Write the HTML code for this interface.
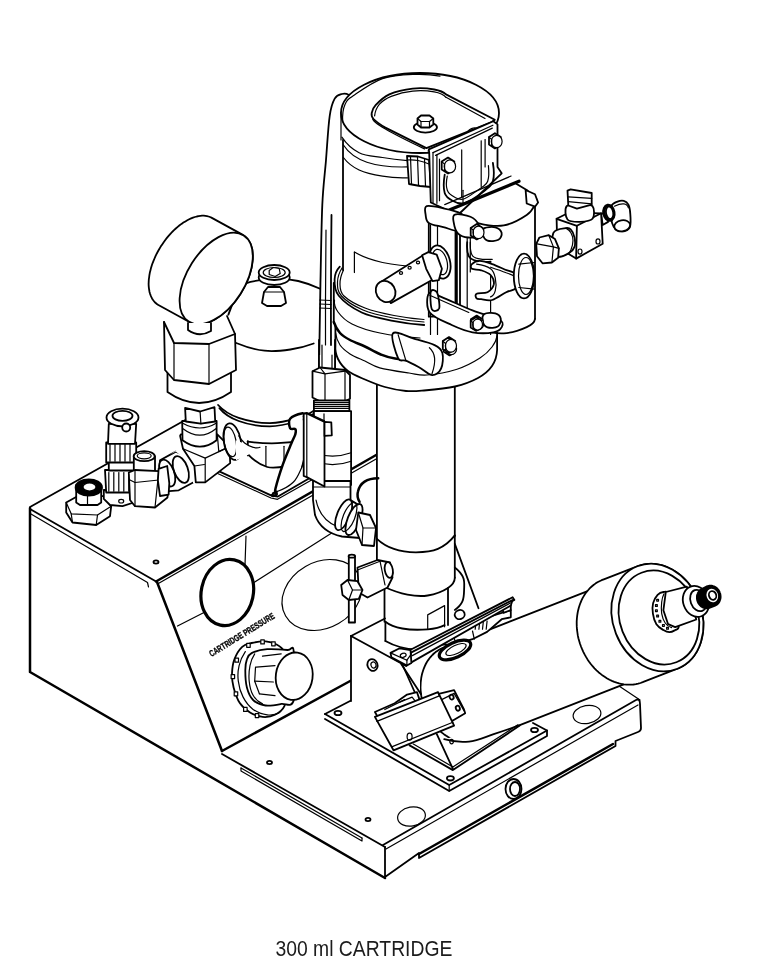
<!DOCTYPE html>
<html><head><meta charset="utf-8"><style>
html,body{margin:0;padding:0;background:#fff;width:768px;height:968px;overflow:hidden}
svg{display:block;position:absolute;left:0;top:0;filter:grayscale(100%)}
.s path,.s line,.s ellipse,.s circle,.s polyline,.s polygon,.s rect{stroke:#000;stroke-linejoin:round;stroke-linecap:round;fill:none}
.s .t{stroke-width:1.2}
.s .m{stroke-width:1.8}
.s .k{stroke-width:2.5}
.s .kk{stroke-width:3.2}
.s .w{fill:#fff}
.s .b{fill:#000}
.s .n{stroke:none}
.cap{position:absolute;left:0;top:936px;width:768px;text-align:center;font:15px "Liberation Sans",sans-serif;color:#000}
</style></head><body>
<svg class="s" width="768" height="968" viewBox="0 0 768 968">
<path class="n w" d="M30,508 L196,414 L330,480 L640,700 L641,730 L385,878 L30,672 Z"/>
<path class="k" d="M30,508 L30,672 L385,878"/>
<path class="m" d="M30,507 L196,414"/>
<path class="m" d="M30,509 L157,582"/>
<path class="t" d="M31,514 L147.5,582.5 L148.5,587"/>
<path class="k" d="M157,582 L222,751"/>
<path class="k" d="M156,581.5 L377,454.5"/>
<path class="t" d="M157.5,584 L377,458.5"/>
<path class="k" d="M222,751 L352,680"/>
<path class="m" d="M222,754 L385,847"/>
<path class="t" d="M241,768 L241,771 L362,841 L362,838"/>
<path class="t" d="M241,768 L362,838"/>
<path class="m" d="M383,845 L636,700 Q640,698 640,704 L641,728 Q641,731 638,732 L615.5,741 L615.5,746 L419,858 L419,853 L385,877 L385,847"/>
<path class="t" d="M386,849 L638,705"/>
<path class="k" d="M419,854 L613,744"/>
<path class="t" d="M519,724 L619,686 L640,700"/>
<path class="t" d="M246,536 L245,565"/>
<path class="t" d="M177.5,626 L204,612.5"/>
<path class="t" d="M254,582.5 L332.5,532.5 L336,525"/>
<ellipse class="m" cx="156" cy="562" rx="2.5" ry="1.6"/>
<ellipse class="m" cx="269.5" cy="762.5" rx="2.5" ry="1.6"/>
<ellipse class="m" cx="368" cy="819.5" rx="2.5" ry="1.6"/>
<ellipse class="t" cx="411.5" cy="816.5" rx="14" ry="9.5" transform="rotate(-10 411.5 816.5)"/>
<ellipse class="t" cx="587" cy="714.5" rx="14" ry="9" transform="rotate(-10 587 714.5)"/>
<ellipse class="m" cx="513.5" cy="789" rx="8" ry="10"/>
<ellipse class="m" cx="515" cy="789" rx="5" ry="7"/>
<ellipse class="kk" cx="227.3" cy="592.5" rx="26" ry="33.3" transform="rotate(12 227.3 592.5)"/>
<ellipse class="t" cx="322" cy="595" rx="42" ry="33" transform="rotate(-30 322 595)"/>
<path class="m w" d="M242.2,646.9 C245.1,644.1 247.7,643.9 251.6,643 C255.5,642.1 261.5,641.1 265.6,641.4 C269.8,641.7 273.4,642.8 276.6,644.5 C279.7,646.2 282.6,648 284.4,651.6 C286.2,655.1 287,659.6 287.5,665.6 C288,671.6 288,680.7 287.5,687.5 C287,694.3 286.5,701.7 284.4,706.2 C282.3,710.8 278.6,713.1 275,714.8 C271.4,716.6 266.7,717.3 262.5,716.9 C258.3,716.5 253.8,714.8 250,712.5 C246.2,710.2 242.6,707.3 239.8,703.1 C237.1,699 234.9,692.4 233.6,687.5 C232.3,682.6 231.9,678.1 232,673.4 C232.2,668.8 232.7,663.8 234.4,659.4 C236.1,654.9 239.3,649.6 242.2,646.9Z"/>
<path class="t w" d="M235.0,658.2 h3.5 v4 h-3.5z"/>
<path class="t w" d="M231.1,674.6 h3.5 v4 h-3.5z"/>
<path class="t w" d="M234.2,691.8 h3.5 v4 h-3.5z"/>
<path class="t w" d="M243.6,707.4 h3.5 v4 h-3.5z"/>
<path class="t w" d="M255.3,713.6 h3.5 v4 h-3.5z"/>
<path class="t w" d="M246.7,643.3 h3.5 v4 h-3.5z"/>
<path class="t w" d="M260.8,639.9 h3.5 v4 h-3.5z"/>
<path class="t w" d="M271.7,641.8 h3.5 v4 h-3.5z"/>
<path class="t" d="M245.3,651.6 C242.3,656 240.2,660.7 239.1,665.6 C237.9,670.6 237.6,676 238.3,681.2 C238.9,686.5 240.5,692.2 243,696.9 C245.4,701.6 249.1,706.4 253.1,709.4 C257.2,712.4 262.8,714.3 267.2,714.8 C271.6,715.4 275.8,714.6 279.7,712.5"/>
<path class="m w" d="M251.6,653.1 C254.9,651.4 261.2,649.7 267.2,649.2 C273.2,648.7 283.1,649.6 287.5,650 C291.9,650.4 292.7,643.2 293.8,651.6 C294.8,659.9 295.8,691.3 293.8,700 C291.7,708.7 285.9,703 281.2,703.9 C276.6,704.8 270.3,706.1 265.6,705.5 C260.9,704.8 256.2,703 253.1,700 C250,697 248.2,692.4 246.9,687.5 C245.6,682.6 245.3,675 245.3,670.3 C245.3,665.6 245.8,662.2 246.9,659.4 C247.9,656.5 248.2,654.8 251.6,653.1Z"/>
<path class="t" d="M254.7,653.9 C252.5,657.2 250.9,661.1 250,665.6 C249.1,670.2 248.7,676.3 249.2,681.2 C249.7,686.2 250.9,691.5 253.1,695.3 C255.3,699.1 258.5,702 262.5,703.9"/>
<path class="t" d="M256.2,667.2 L275,665.6"/>
<path class="t" d="M254.7,681.2 L273.4,682"/>
<path class="t" d="M259.4,693.8 L275,695.6"/>
<path class="t" d="M262.5,656.2 L281.2,653.9"/>
<path class="t" d="M255.5,667.2 L254.7,681.2 L259.4,693.8"/>
<ellipse class="m w" cx="294.2" cy="676.2" rx="18.4" ry="23.8" transform="rotate(8 294.2 676.2)"/>
<text style="opacity:0.99" transform="translate(211.5,657) rotate(-31.6)" x="0" y="0" font-family="Liberation Sans" font-weight="bold" font-size="9" textLength="75" lengthAdjust="spacingAndGlyphs" fill="#000" stroke="#000" stroke-width="0.35">CARTRIDGE PRESSURE</text>
<path class="n w" d="M215.5,469.6 L189.7,454.1 L251.7,415.3 L313.7,456.7 L311.1,477.3 L277.5,496.7 L272.3,496.7 L215.5,470.1Z"/>
<path class="m" d="M215.5,469.6 L271,495.4 L277.5,496.7 L311.1,477.3"/>
<path class="t" d="M216,472.7 L271,498 L277.5,499.3 L311.6,479.9"/>
<ellipse class="m" cx="274.9" cy="494.1" rx="2.2" ry="1.5"/>
<path class="n w" d="M246.5,441.2 L308.5,441.2 L308.5,461.8 L287.8,465.7 L267.2,467.5 L249.1,456.7Z"/>
<path class="m" d="M247.8,454.1 C254,460.8 260.5,465.1 267.2,467 C273.8,468.9 281.8,467 287.8,465.7 C293.9,464.4 299,462.3 303.3,459.2"/>
<path class="t" d="M265.9,446.3 L265.9,466.5"/>
<path class="t" d="M284,446.3 L284,465.7"/>
<path class="m" d="M247.8,441.2 L247.8,455.4"/>
<path class="m" d="M247.8,441.7 C257.5,443 267.4,443.5 277.5,443.2 C287.6,442.9 298,441.8 308.5,439.9"/>
<path class="n w" d="M233.6,288.7 L233.6,405 L218.1,406.3 L238.7,419.2 L269.7,424.4 L298.2,419.2 L316.2,410.2 L318.8,288.7 L298.2,280.5 L277.5,279.2 L246.5,282.3Z"/>
<path class="m" d="M228.4,314.6 C230.6,307.8 233.2,301.8 236.2,296.5 C239.2,291.2 239.6,286 246.5,283.1 C253.4,280.2 268.9,279.5 277.5,279.2 C286.1,278.8 290.8,279.3 298.2,281 C305.5,282.7 313.2,285.4 321.4,289.3"/>
<path class="m" d="M236.2,343 C246.1,347.1 255.5,349.7 264.6,350.7 C273.6,351.8 282.2,350.7 290.4,349.5 C298.6,348.3 306.3,346.3 313.7,343.5"/>
<path class="m" d="M218.1,405 C223.2,410.6 230.1,414.9 238.7,417.9 C247.4,420.9 259.8,423.1 269.7,423.1 C279.7,423.1 290.6,420.2 298.2,417.9 C305.7,415.7 311.3,412.9 315,409.6"/>
<path class="m" d="M219.4,408.1 C223.9,413.7 230.4,418 238.7,421 C247.1,424.1 259.8,426.4 269.7,426.4 C279.7,426.4 290.6,423.3 298.2,421 C305.7,418.7 311.3,416 315,412.7"/>
<path class="m w" d="M262,303 L264,292 L268,287 L280,287 L284,292 L286,303 L281,306 L267,306Z"/>
<path class="t" d="M264,292 L284,292"/>
<ellipse class="m w" cx="274.2" cy="277.5" rx="15.5" ry="7.5"/>
<ellipse class="m w" cx="274.2" cy="272.5" rx="15.5" ry="7.5"/>
<ellipse class="t" cx="274.2" cy="272.5" rx="11" ry="5"/>
<path class="t w" d="M269.2,270.5 L273.2,267.5 L279.2,268.5 L280.2,273.5 L275.2,276.5 L269.2,274.5Z"/>
<path class="m w" d="M66.2,502.5 L78.8,495.5 L103.8,496.2 L111.2,506.2 L110,516.2 L96.2,525 L72.5,522.5 L66.2,512.5Z"/>
<path class="t" d="M66.2,502.5 L71.2,513.8 L97.5,515 L111.2,506.2"/>
<path class="t" d="M71.2,513.8 L72.5,522.5"/>
<path class="t" d="M97.5,515 L96.2,525"/>
<path class="m w" d="M76.2,485 L101.2,485 L101.2,502.5 L97.5,505 L80,505 L76.2,502.5Z"/>
<path class="t" d="M87.5,490 L87.5,503.8"/>
<ellipse class="kk b" cx="88.8" cy="487.5" rx="12.5" ry="7.5"/>
<ellipse class="t w" cx="89.5" cy="487" rx="6.5" ry="4"/>
<path class="m w" d="M103.8,490 L132.5,491.2 L133.8,502.5 L122.5,506.2 L110,505 L103.8,498.8Z"/>
<ellipse class="t" cx="121.2" cy="501.2" rx="2.5" ry="1.8"/>
<path class="m w" d="M105,470 L132.5,470 L133,492.5 L106.2,492.5Z"/>
<path class="t" d="M108.8,472.5 L108.8,491.2"/>
<path class="t" d="M113.8,472.5 L113.8,491.2"/>
<path class="t" d="M118.8,472.5 L118.8,491.2"/>
<path class="t" d="M123.8,472.5 L123.8,491.2"/>
<path class="t" d="M128.8,472.5 L128.8,491.2"/>
<path class="m w" d="M108.8,461.2 L135,461.2 L135,470.5 L108.8,470.5Z"/>
<path class="m w" d="M106.2,442.5 L136.2,442.5 L136.2,462.5 L106.2,462.5Z"/>
<path class="t" d="M110,444.5 L110,461.2"/>
<path class="t" d="M115,444.5 L115,461.2"/>
<path class="t" d="M120,444.5 L120,461.2"/>
<path class="t" d="M125,444.5 L125,461.2"/>
<path class="t" d="M130,444.5 L130,461.2"/>
<path class="m w" d="M108.8,423.8 L136.2,423.8 L135,443.8 L108,443.8Z"/>
<ellipse class="m w" cx="122.5" cy="417.5" rx="16" ry="8.8"/>
<ellipse class="m" cx="122.5" cy="415.8" rx="10" ry="5"/>
<ellipse class="m w" cx="126.2" cy="427.5" rx="4" ry="4"/>
<path class="m w" d="M133.8,456.2 L155,456.2 L155,475 L133.8,475Z"/>
<ellipse class="m w" cx="144.2" cy="456.2" rx="10.5" ry="5"/>
<ellipse class="t" cx="144.2" cy="455.8" rx="7" ry="3"/>
<path class="m w" d="M128.8,472.5 L135,470 L158.8,471.2 L168.8,480 L167.5,497.5 L155,507.5 L135,506.2 L130,500Z"/>
<path class="t" d="M135,470 L135,506.2"/>
<path class="t" d="M158.8,471.2 L155,507.5"/>
<path class="t" d="M130,480 L135,482.5 L158.8,480 L168.8,480"/>
<path class="m w" d="M160,460.2 L175.8,451.6 L195.8,460.2 L197.3,480.3 L178.7,490.3 L162.9,491.7 L158.6,480.3Z"/>
<ellipse class="m w" cx="167.2" cy="473.1" rx="7" ry="14" transform="rotate(-20 167.2 473.1)"/>
<ellipse class="m" cx="180.8" cy="469.5" rx="7" ry="14" transform="rotate(-20 180.8 469.5)"/>
<path class="m w" d="M158.6,468.8 L167.2,466 L169.3,483.2 L168.6,494.6 L160,496 L157.9,480.3Z"/>
<path class="n w" d="M180.1,435.2 L183,447.3 L205.2,458.1 L205.2,482.4 L193,483.2 L193,466 L175.8,451.6 L170.1,454.5 L180.8,447.3Z"/>
<path class="m w" d="M180.8,434.4 L217.3,434.4 L229.5,446.6 L230.2,463.1 L205.2,482.4 L195.8,482.4 L194.4,466 L183,448.8 L180.1,435.9Z"/>
<path class="t" d="M183,448.8 L205.2,458.1 L205.2,482.4"/>
<path class="t" d="M205.2,458.1 L229.5,446.6"/>
<path class="t" d="M217.3,434.4 L218.8,451.6 L229.5,446.6"/>
<path class="t" d="M194.4,466 L204.4,464.5"/>
<ellipse class="m w" cx="232.4" cy="441.6" rx="8.5" ry="18.5" transform="rotate(-10 232.4 441.6)"/>
<ellipse class="t" cx="230.2" cy="441.9" rx="6" ry="15" transform="rotate(-10 230.2 441.9)"/>
<path class="n w" d="M236,440.2 L250.3,445.9 L248.9,454.5 L236,460.2Z"/>
<path class="t" d="M238.8,435.9 C240.3,438.7 242.2,441.1 244.6,443 C246.9,444.9 250.6,446.6 253.2,447.3 C255.7,448.1 258,448.1 260,447.3"/>
<path class="m w" d="M182.2,421 L182.5,440.2 Q200.1,453 216.6,440.2 L216.6,421 Z"/>
<path class="t" d="M182.2,423 Q200.1,433 216.6,423"/>
<path class="t" d="M183,428.7 Q200.1,441.7 215.9,428.7"/>
<path class="m w" d="M185.1,407.9 L200.1,411.5 L214.5,407.2 L215.2,421.5 L200.9,423.7 L185.8,421.5Z"/>
<path class="t" d="M200.1,411.5 L200.9,423.7"/>
<path class="m w" d="M167.5,368 L167.5,392 Q199,414 231,392 L231,368"/>
<path class="n w" d="M164,324 L174,343 L209,344 L235,334 L236,370 L209,384 L174,380 L165,370Z"/>
<path class="m" d="M164,322 L174,343 L209,344 L235,334 L227,316"/>
<path class="m" d="M164,322 L165,370 L174,380 L209,384 L236,370 L235,334"/>
<path class="t" d="M174,343 L174,380"/>
<path class="t" d="M209,344 L209,384"/>
<path class="m w" d="M148.6,284 L148.7,281.9 L148.8,279.7 L149.1,277.5 L149.4,275.2 L149.8,272.8 L150.4,270.5 L151,268.1 L151.7,265.7 L152.5,263.3 L153.5,260.9 L154.5,258.5 L155.5,256.1 L156.7,253.7 L158,251.3 L159.3,249 L160.7,246.6 L162.2,244.4 L163.7,242.2 L165.3,240 L166.9,237.9 L168.6,235.9 L170.4,233.9 L172.1,232 L174,230.2 L175.8,228.5 L177.7,226.9 L179.6,225.3 L181.5,223.9 L183.4,222.6 L185.4,221.4 L187.3,220.3 L189.2,219.3 L191.1,218.4 L193,217.6 L194.9,217 L196.8,216.5 L198.6,216.1 L200.4,215.9 L202.1,215.7 L203.8,215.7 L205.4,215.9 L207,216.1 L208.5,216.5 L210,217 L211.4,217.6 L242.4,234.6 L243.7,235.4 L244.9,236.3 L246.1,237.3 L247.2,238.4 L248.2,239.6 L249.1,240.9 L249.9,242.4 L250.6,243.9 L251.2,245.5 L251.7,247.2 L252.2,249 L252.5,250.9 L252.7,252.9 L252.8,254.9 L252.8,257 L252.8,259.2 L252.6,261.4 L252.3,263.7 L251.9,266 L251.4,268.3 L250.8,270.7 L250.2,273.1 L249.4,275.5 L248.5,277.9 L247.6,280.3 L246.5,282.7 L245.4,285.1 L244.2,287.5 L242.9,289.9 L241.5,292.2 L240.1,294.5 L238.6,296.7 L237,298.9 L235.4,301.1 L233.7,303.1 L232,305.1 L230.3,307.1 L228.4,308.9 L226.6,310.7 L224.7,312.3 L222.9,313.9 L220.9,315.4 L219,316.8 L217.1,318 L215.2,319.2 L213.2,320.3 L211.3,321.2 L209.4,322 L207.5,322.7 L205.6,323.3 L203.8,323.7 L202,324 L200.3,324.2 L198.5,324.3 L196.9,324.2 L195.3,324 L193.7,323.7 L192.2,323.3 L190.8,322.7 L189.4,322 L158.4,305 L157.2,304.2 L156,303.2 L154.8,302.2 L153.8,301 L152.9,299.8 L152,298.4 L151.3,296.9 L150.6,295.3 L150,293.6 L149.5,291.9 L149.2,290 L148.9,288.1 L148.7,286.1Z"/>
<ellipse class="m w" cx="216.2" cy="278.5" rx="51.1" ry="28.7" transform="rotate(-57.5 216.2 278.5)"/>
<path class="m w" d="M188,323 L188,330 Q199,338 211,331 L211,323"/>
<path class="n w" d="M376.9,380 L454.8,380 L454.8,536 L437.9,549 L415.9,552.3 L393.9,549 L376.9,539Z"/>
<path class="m" d="M376.9,385 L376.9,539"/>
<path class="m" d="M454.8,385 L454.8,536"/>
<path class="n w" d="M376.9,538.8 L454.8,535.4 L454.8,577.7 L448,587.9 L427.7,595.5 L407.4,594.6 L385.4,587.9 L376.9,577.7Z"/>
<path class="m" d="M376.9,538.8 L376.9,581.1"/>
<path class="m" d="M454.8,535.4 L454.8,577.7"/>
<path class="m" d="M376.9,538.8 C381.7,543.3 387.4,546.7 393.9,548.9 C400.3,551.2 408.5,552.3 415.9,552.3 C423.2,552.3 431.4,551.8 437.9,548.9 C444.3,546.1 450,541.6 454.8,535.4"/>
<path class="n w" d="M384.5,587.9 L448,587.9 L448,625.1 L427.7,629.3 L402.3,628.5 L384.5,621.7Z"/>
<path class="m" d="M384.5,587 L384.5,621.7"/>
<path class="m" d="M448,587.9 L448,625.1"/>
<path class="n w" d="M385.4,621.7 L447,621 L447,640 L416,649 L385.4,641Z"/>
<path class="m" d="M385.4,621.7 L385.4,641"/>
<path class="m" d="M385.4,641 C390,643.6 394.9,645.6 400,647 C405.1,648.4 410.7,649.4 416,649.5 C421.3,649.6 426.8,648.9 432,647.5 C437.2,646.1 442.2,643.9 447,641"/>
<path class="m" d="M384.5,587 C392.6,590.7 400.2,593.2 407.4,594.6 C414.6,596 420.9,596.6 427.7,595.5 C434.5,594.3 443.5,590.8 448,587.9 C452.5,584.9 454.8,581.5 454.8,577.7"/>
<path class="m" d="M385.4,621.7 C389.6,625 395.3,627.2 402.3,628.5 C409.4,629.8 420.7,629.9 427.7,629.3 C434.8,628.8 440.4,627.4 444.6,625.1"/>
<path class="t" d="M427.7,628.5 L427.7,614.9 L444.6,605.6 L444.6,626.8"/>
<path class="m" d="M454.8,567.5 C458.9,570.7 461.7,574 463.2,577.7 C464.8,581.4 464.2,585.6 464.1,589.6 C464,593.5 464,598 462.4,601.4 C460.9,604.8 458.3,607.6 454.8,609.9"/>
<path class="m" d="M454.8,543.9 L478.5,608.2"/>
<path class="n w" d="M342,94 C339.6,94.6 336.8,94.9 334.7,98.6 C332.6,102.3 331.1,105.8 329.7,116 C328.2,126.2 327.2,145.2 326,160 C324.8,174.8 323.2,185 322.3,205 C321.4,225 321,257.5 320.5,280 C320,302.5 319.8,325.3 319.5,340 C319.2,354.7 316.4,363.3 319,368 C321.6,372.7 332,379.3 335,368 C338,356.7 335.3,328 337,300 C338.7,272 343,234.2 345,200 C347,165.8 349.5,112.7 349,95 C348.5,77.3 344.4,93.4 342,94Z"/>
<path class="m" d="M349,95 C346.7,93.7 344.4,93.4 342,94 C339.6,94.6 336.8,94.9 334.7,98.6 C332.6,102.3 331.1,105.8 329.7,116 C328.2,126.2 327.2,145.2 326,160 C324.8,174.8 323.2,185 322.3,205 C321.4,225 321,257.5 320.5,280 C320,302.5 319.8,325.3 319.5,340 C319.2,354.7 319.1,364 319,368"/>
<path class="m" d="M335,340 L335,368"/>
<path class="m" d="M331.5,215 C331.2,236.7 331.1,258.3 331,280 C330.9,301.7 330.9,323.3 331,345"/>
<path class="t" d="M326,230 C325.8,257.5 325.6,280.8 325.5,300 C325.4,319.2 325.4,334.2 325.5,345"/>
<path class="t" d="M319.8,300 L331,300.5"/>
<path class="t" d="M319.8,304 L331,304.5"/>
<path class="t" d="M319.8,308 L331,308.5"/>
<path class="n w" d="M319,355 L335,355 L335,370 L319,370Z"/>
<path class="m" d="M319,340 L319,370"/>
<path class="m" d="M335,350 L335,370"/>
<path class="t" d="M322,345 L322,370"/>
<path class="t" d="M332,355 L332,370"/>
<path class="m w" d="M312.5,371.2 L320,367.5 L345,370 L350,375 L350,398.8 L342.5,402.5 L320,401.2 L312.5,397.5Z"/>
<path class="t" d="M320,367.5 L325,373.8 L325,401.2"/>
<path class="t" d="M345,370 L345,401.2"/>
<path class="t" d="M312.5,371.2 L325,373.8 L345,371.2"/>
<path class="m w" d="M313.9,400.3 L349.4,400.3 L349.4,411.1 L313.9,411.1Z"/>
<path class="t" d="M314.5,402.3 L348.7,402.3"/>
<path class="t" d="M314.5,404.4 L348.7,404.4"/>
<path class="t" d="M314.5,406.4 L348.7,406.4"/>
<path class="t" d="M314.5,408.4 L348.7,408.4"/>
<path class="m w" d="M313.9,411.1 L351.1,411.1 L351.1,484.9 L313.9,484.9Z"/>
<path class="t" d="M313.9,452.8 C320.1,455 326.3,456.2 332.5,456.2 C338.7,456.2 344.9,455 351.1,452.8"/>
<path class="t" d="M313.9,461.2 C320.1,463.5 326.3,464.6 332.5,464.6 C338.7,464.6 344.9,463.5 351.1,461.2"/>
<path class="t" d="M324,413.9 L324,484.9"/>
<path class="m w" d="M313,481 L350.5,481 L350.5,500 L362,507 L360,538 L342,536.5 Q321,532 315,515 L313,500 Z"/>
<path class="t" d="M316,500 Q320,520 338,527"/>
<path class="t" d="M313,487 L350.5,487"/>
<ellipse class="m w" cx="343.6" cy="514.8" rx="6.4" ry="16.4" transform="rotate(22 343.6 514.8)"/>
<ellipse class="m w" cx="354" cy="519.5" rx="6.4" ry="16.5" transform="rotate(22 354 519.5)"/>
<ellipse class="t" cx="349" cy="517" rx="5.8" ry="15.5" transform="rotate(22 349 517)"/>
<path class="m w" d="M358.3,512.5 L370,515 L376,528 L374,546 L362,545 L356,530Z"/>
<path class="t" d="M358.3,512.5 L363,528 L362,545"/>
<path class="t" d="M363,528 L376,528"/>
<path class="n w" d="M290.1,418.8 L302.6,413.3 L303.7,459.4 L301.6,467.7 L293.2,482.3 L276.6,491.7 L275.5,488.5 L282.8,464.6 L291.2,443.8 L295.3,434.4 L295.3,429.2 L290.1,428.1Z"/>
<path class="t" d="M303.7,459.4 L301.6,467.7"/>
<path class="t" d="M303.7,459.4 C304,461.1 303.3,463.9 301.6,467.7 C299.8,471.5 297.4,478.3 293.2,482.3 C289.1,486.3 283.5,489.4 276.6,491.7"/>
<path class="k" d="M276.6,491.7 C274.8,494.1 274.5,493.1 275.5,488.5 C276.6,484 280.2,472 282.8,464.6 C285.4,457.1 289.1,448.8 291.2,443.8 C293.2,438.7 294.6,436.8 295.3,434.4 C296,431.9 296.2,430.2 295.3,429.2 C294.5,428.1 291,429.9 290.1,428.1 C289.3,426.4 288,421.2 290.1,418.8 C292.2,416.3 296.4,414.5 302.6,413.3"/>
<path class="m w" d="M303.7,413.5 L306.8,413.5 L324.5,421.9 L324.5,486.5 L306.8,477.1 L303.7,476Z"/>
<path class="t" d="M306.8,413.5 L306.8,477.1"/>
<path class="t" d="M303.7,413.5 L306.8,412.5 L324.5,420.8"/>
<path class="m w" d="M324.5,421.9 L331.3,422.4 L331.8,435.4 L324.5,435.9Z"/>
<ellipse class="t" cx="273.5" cy="495.3" rx="2.2" ry="1.3"/>
<path class="k" d="M378.2,478.2 C372.5,478.2 368,479.3 364.6,481.6 C361.2,483.8 358.7,488.3 357.9,491.7 C357,495.1 357.6,498.5 359.6,501.9"/>
<path class="m w" d="M348.8,556.2 L355,556.2 L355,622.5 L348.8,622.5Z"/>
<ellipse class="m w" cx="351.8" cy="556.2" rx="3.2" ry="1.5"/>
<path class="m w" d="M357.5,567.5 L377.5,560 L390,562.5 L392.5,577.5 L387.5,587.5 L367.5,597.5 L358.8,592.5Z"/>
<path class="t" d="M357.5,570 L380,561.2"/>
<path class="t" d="M380,561.2 L385,585"/>
<ellipse class="m w" cx="388.8" cy="570" rx="4" ry="8" transform="rotate(-10 388.8 570)"/>
<path class="m w" d="M341.2,585 L347.5,580 L357.5,581.2 L362.5,590 L358.8,598.8 L348.8,600 L342.5,595Z"/>
<path class="t" d="M347.5,580 L352.5,590 L348.8,600"/>
<path class="t" d="M352.5,590 L362.5,590"/>
<path class="m w" d="M335.4,318 L335.4,345 C335,350 335.9,354.7 338,359 C340.1,363.3 343.5,367.6 348,371 C352.5,374.4 358.8,376.8 365,379.5 C371.2,382.2 378.2,385.1 385,387 C391.8,388.9 399.5,390.4 406,391 C412.5,391.6 415.8,391.2 424,390.5 C432.2,389.8 446,388.6 455,386.5 C464,384.4 471.8,381.4 478,378 C484.2,374.6 488.8,370.7 492,366 C495.2,361.3 496.9,356 497.1,350 L497.1,318 Z"/>
<path class="t" d="M335.6,333 C336.1,337.5 337.6,341.5 340,345 C342.4,348.5 345.9,351.2 350,353.9 C354.1,356.6 359.9,358.7 364.9,361 C369.8,363.3 372.3,365.8 379.7,367.8 C387.1,369.8 401.1,371.8 409,373 C416.9,374.2 419,375.6 427,375 C435,374.4 448.2,372 457,369.2 C465.8,366.4 474.2,361.7 480,358 C485.8,354.3 489.2,350.7 492,347 C494.8,343.3 496.5,339.7 497,336"/>
<path class="n w" d="M341,113 L341,300 L420,330 L497,300 L497,113Z"/>
<path class="t" d="M341,112 L341,140"/>
<path class="m" d="M343,140 L343,270"/>
<ellipse class="m w" cx="420" cy="113" rx="79" ry="40"/>
<path class="t" d="M342.7,121.6 C342.3,114.5 343,108.8 345,104.4 C347,99.9 348.1,99.3 354.4,95 C360.6,90.7 372.6,82 382.5,78.6 C392.4,75.2 404.2,74.8 413.8,74.4 C423.3,74 432.1,74.6 440,76.2"/>
<path class="t" d="M341.9,137.2 C346.6,144.2 352.3,149.4 359.1,152.8 C365.8,156.2 374.4,156.2 382.5,157.5 C390.6,158.8 398.9,159.8 407.5,160.6"/>
<path class="t" d="M343.4,145 C348.4,152.8 356.2,158.5 366.9,162.2 C377.6,165.8 391.1,167.4 407.5,166.9"/>
<path class="t" d="M343.4,157.5 C347.3,162.7 352.6,166.9 359.1,170 C365.6,173.1 374.4,174.9 382.5,176.2 C390.6,177.6 398.9,178.1 407.5,177.8"/>
<path class="t" d="M354.4,252.1 C362.2,256.6 371.6,260.1 382.5,262.5 C393.4,264.9 405.9,266.3 420,266.7"/>
<path class="t" d="M354.4,252.1 L354.4,291.7"/>
<path class="t" d="M354.4,291.7 C362.2,297.2 371.6,301.4 382.5,304.2 C393.4,306.9 405.9,308.3 420,308.3"/>
<path class="n w" d="M334,282 L333.5,322 Q336,333 350,340 Q370,352 400,359 L440,362 L440,300 L345,270 Z"/>
<path class="m" d="M339.8,266.7 C336.5,270.2 334.8,274.3 334.6,279.2 C334.4,284.1 334.2,290.2 338.8,295.8 C343.3,301.4 352.7,308.3 361.7,312.5 C370.7,316.7 382.5,318.7 392.9,320.8 C403.3,322.9 413.8,324.3 424.2,325"/>
<path class="t" d="M342,268 C339.1,272.7 337.6,277.3 337.5,282 C337.4,286.7 337.2,291.3 341.5,296 C345.8,300.7 354.4,306.3 363,310 C371.6,313.7 382.8,316 393,318 C403.2,320 413.5,321.3 424,322"/>
<path class="t" d="M343.5,270 C341.1,275 339.9,279.7 340,284 C340.1,288.3 339.8,292 344,296 C348.2,300 356.7,304.8 365,308 C373.3,311.2 384.2,313.6 394,315.5 C403.8,317.4 413.8,318.8 424,319.5"/>
<path class="t" d="M334.5,300 C333.9,304 335.1,308 338,312 C340.9,316 345,320.5 352,324 C359,327.5 368.7,330.7 380,333 C391.3,335.3 404.7,337 420,338"/>
<path class="m" d="M333.8,283 L333.8,323"/>
<path class="k" d="M333.8,322 C335.2,326.3 337.3,330 340,333 C342.7,336 345.9,337.8 350,340 C354.1,342.2 359.9,344.2 364.9,346.5 C369.8,348.8 374.7,352 379.7,354 C384.7,356 386.6,357.2 395,358.5 C403.4,359.8 415.1,361 430,362"/>
<path class="m w" d="M385.4,127.6 C379.8,124.3 375.8,121.4 373.5,119 C371.2,116.6 371.3,115.3 371.7,113 C372.1,110.7 372.7,108.3 375.6,105.2 C378.5,102.1 383.1,97.2 389.3,94.4 C395.5,91.6 405.2,89.4 412.7,88.6 C420.2,87.8 428.6,88.5 434.2,89.5 C439.8,90.5 443.7,92.1 446,94.4 L494.8,119.8 L491.7,122 L426.4,148.1 L385.4,127.6 Z"/>
<path class="t" d="M374.6,115.9 C375.1,111.3 376.7,107.5 379.5,104.2 C382.3,101 385.7,98.6 391.2,96.4 C396.8,94.2 405.5,91.8 412.7,91.1 C419.9,90.3 428.6,90.9 434.2,91.9 C439.8,92.9 443.7,94.7 446,97.3"/>
<path class="t" d="M446,97.3 L485,118.5"/>
<path class="t" d="M372.7,118.8 C372.5,120.6 376.8,124 385.4,129 C394,134 407,140.6 424.5,148.9"/>
<path class="t" d="M428,151 L493,124.5"/>
<ellipse class="m w" cx="425.4" cy="127.3" rx="11.6" ry="5.3"/>
<path class="m w" d="M417.5,118.5 L421,115.5 L429.5,115.5 L433.3,118.5 L433.3,124.5 L429.5,127.5 L421,127.5 L417.5,124.5Z"/>
<path class="t" d="M417.5,118.5 L421,121.5 L429.5,121.5 L433.3,118.5"/>
<path class="t" d="M421,121.5 L421,127.5"/>
<path class="t" d="M429.5,121.5 L429.5,127.5"/>
<ellipse class="t" cx="453.2" cy="142.8" rx="5.8" ry="3.3" transform="rotate(-22 453.2 142.8)"/>
<ellipse class="t" cx="472.7" cy="131.7" rx="5.8" ry="3.3" transform="rotate(-22 472.7 131.7)"/>
<ellipse class="t" cx="453.8" cy="143.8" rx="3.2" ry="1.6" transform="rotate(-22 453.8 143.8)"/>
<ellipse class="t" cx="473.3" cy="132.6" rx="3.2" ry="1.6" transform="rotate(-22 473.3 132.6)"/>
<path class="m w" d="M407,156 L418,156.5 L429,160 L431,187 L420,186 L409,184Z"/>
<path class="t" d="M410.5,157 L411.5,184"/>
<path class="t" d="M417.5,157 L418.5,185"/>
<path class="t" d="M424.5,158.5 L425.5,186"/>
<path class="t" d="M407,160 C410.7,159.7 414.3,159.8 418,160.5 C421.7,161.2 425.3,162.3 429,164"/>
<path class="m w" d="M601.1,214.1 L606.6,211.7 L608.1,221.9 L602.7,225Z"/>
<path class="m w" d="M611.2,206.2 C612.3,203.4 615.4,202.5 617.5,201.6 C619.6,200.7 621.9,200.3 623.8,200.8 C625.6,201.3 627.3,202.5 628.4,204.7 C629.5,206.9 630.1,210.4 630.3,214.1 C630.6,217.7 630.8,223.8 630,226.6 C629.2,229.4 627.4,230.3 625.3,230.9 C623.2,231.6 619.5,231.2 617.5,230.5 C615.5,229.7 614.6,228.5 613.6,226.6 C612.6,224.6 611.6,222.1 611.2,218.8 C610.9,215.4 610.2,209.1 611.2,206.2Z"/>
<ellipse class="m w" cx="622.2" cy="225.8" rx="8" ry="5.5" transform="rotate(-10 622.2 225.8)"/>
<path class="t" d="M614.4,206.2 C618.3,204.4 621.4,203.6 623.8,203.9 C626.1,204.2 627.7,205.5 628.4,207.8"/>
<ellipse class="kk w" cx="608.9" cy="212.8" rx="5" ry="7.5" transform="rotate(-10 608.9 212.8)"/>
<ellipse class="m" cx="610" cy="212.8" rx="4" ry="6.5" transform="rotate(-10 610 212.8)"/>
<path class="m w" d="M556.6,218.8 L569.1,212.5 L601.1,213.3 L602.7,243.8 L576.1,258.6 L557.3,246.9Z"/>
<path class="m" d="M556.6,218.8 L576.9,225.8 L601.1,213.3"/>
<path class="m" d="M576.9,225.8 L576.1,258.6"/>
<ellipse class="t" cx="598" cy="241.4" rx="2" ry="2.6"/>
<ellipse class="t" cx="580" cy="251.6" rx="2" ry="2.6"/>
<path class="m w" d="M566.7,206.2 C568.8,203.8 575.7,204.7 580,204.7 C584.3,204.7 590.4,203.9 592.5,206.2 C594.6,208.6 594.6,216.1 592.5,218.8 C590.4,221.4 584.2,221.7 580,221.9 C575.8,222 569.7,222.1 567.5,219.5 C565.3,216.9 564.6,208.7 566.7,206.2Z"/>
<path class="m w" d="M567.5,190.6 L570.6,189.4 L591.7,193 L591.7,204.7 L576.9,208.6 L568.3,205.5Z"/>
<path class="t" d="M568.3,201.6 L591.7,203.9"/>
<path class="t" d="M568.3,196.9 L591.7,198.4"/>
<path class="m w" d="M553.4,232.8 C555.5,228.6 563,228.6 565.9,228.1 C568.9,227.6 569.5,228.1 570.9,229.7 C572.4,231.2 573.9,234.6 574.5,237.5 C575.1,240.4 575.4,244.3 574.5,246.9 C573.6,249.5 571.8,251.4 569.1,253.1 C566.3,254.8 560.7,257 558.1,257 C555.5,257 554.2,257.2 553.4,253.1 C552.7,249.1 551.4,237 553.4,232.8Z"/>
<path class="t" d="M565.9,228.1 C568.1,229.2 569.8,230.7 570.9,232.8 C572.1,234.9 573,237.8 573,240.6 C573,243.5 571.8,247.8 570.9,250 C570,252.2 568.9,253.5 567.5,253.9"/>
<path class="m w" d="M539.4,237.5 L548.8,235.2 L555,239.1 L558.9,248.4 L558.1,257.8 L551.9,262.5 L542.5,263.3 L537,256.2 L536.2,243.8Z"/>
<path class="t" d="M548.8,235.2 L553.4,246.9 L551.9,262.5"/>
<path class="t" d="M537,243.8 L553.4,246.9 L558.9,248.4"/>
<path class="n w" d="M457.9,215 L516.2,183.8 L526.7,190 L535,198.3 L535,318.8 L526.7,327.1 L503.8,333.3 L482.9,329.2 L472.5,325 L451.7,235.8Z"/>
<path class="m" d="M535,198.3 L535,318.8"/>
<path class="m" d="M482.9,329.2 C489.5,332.3 496.5,333.7 503.8,333.3 C511,333 521.5,329.5 526.7,327.1 C531.9,324.7 534.7,321.9 535,318.8"/>
<path class="m" d="M457.9,215 C464.2,218.8 471.1,221.6 478.8,223.3 C486.4,225.1 495.8,226.8 503.8,225.4 C511.7,224 521.5,218.5 526.7,215 C531.9,211.5 533.4,207.4 535,204.6 C536.6,201.8 536.9,199.7 536,198.3"/>
<path class="m" d="M516.2,183.8 L526.7,190 L535,198.3"/>
<path class="m w" d="M525.6,190 L535,194.2 L538.1,202.5 L535,206.7 L526.7,203.5Z"/>
<path class="m w" d="M428.8,149.4 L493.3,121.2 L497.5,124.4 L497.5,167.1 L501.7,173.3 L457.9,215 L430.8,202.5 L429.2,152.5Z"/>
<path class="t" d="M433,152.6 L492.9,125.2"/>
<path class="t" d="M435.6,155.4 L492.3,128.1"/>
<path class="t" d="M433,152.6 L433,203.3"/>
<path class="t" d="M436.9,155.2 L436.9,203.3"/>
<path class="t" d="M439.5,159.1 L439.5,200.7"/>
<path class="t" d="M461.7,149.9 L461.7,196.8"/>
<path class="t" d="M481.2,140.8 L481.2,186.4"/>
<path class="t" d="M485.1,139.5 L485.1,166.9"/>
<path class="m" d="M444.7,174.7 C443.4,182.5 443.4,188.6 444.7,192.9 C446,197.3 449.5,199 452.6,200.7 C455.6,202.5 459.7,203.6 463,203.3 C466.2,203.1 468.4,201.6 472.1,199.4 C475.8,197.3 481.6,193.4 485.1,190.3 C488.6,187.3 491.6,185.8 492.9,181.2 C494.2,176.6 494.2,170.6 492.9,163"/>
<path class="t" d="M447.3,176 C446,182 446,186.7 447.3,190.3 C448.6,193.9 452.3,196.1 455.2,197.5 C458,198.9 459.9,200.4 464.3,198.8 C468.6,197.1 477.3,190.6 481.2,187.7 C485.1,184.8 486.5,184.9 487.7,181.2 C488.9,177.5 489.1,172.3 488.4,165.6"/>
<path class="t" d="M463,203.3 L463,190.3"/>
<path class="t" d="M444.7,204.6 L511.1,176"/>
<path class="kk" d="M449.9,209.8 L519,181.2"/>
<path class="m w" d="M428.8,220.8 L460,231.2 L460,316.7 L428.8,316.7Z"/>
<path class="t" d="M430.5,225 L430.5,334.4"/>
<path class="t" d="M437.5,225 L437.5,334.4"/>
<path class="kk" d="M456.2,225 L456.2,309.4"/>
<path class="t" d="M467.2,237.5 L467.2,312.5"/>
<path class="t" d="M470.3,237.5 L470.3,271.9"/>
<path class="t" d="M490.6,262.5 L490.6,334.4"/>
<path class="m w" d="M426.7,206.2 C429.6,205.2 437.6,207.1 443.3,208.3 C449.1,209.5 457.6,211.5 461,213.5 C464.5,215.6 464.2,217.9 464.2,220.8 C464.2,223.8 464.5,230.2 461,231.2 C457.6,232.3 448.7,228.5 443.3,227.1 C438,225.7 431.7,225 428.8,222.9 C425.8,220.8 426,217.4 425.6,214.6 C425.3,211.8 423.7,207.3 426.7,206.2Z"/>
<path class="m w" d="M454.8,214.6 C457.6,213.5 466.4,214.9 470.4,216.7 C474.4,218.4 477.4,221.9 478.8,225 C480.1,228.1 480.5,233.3 478.8,235.4 C477,237.5 471.8,237.8 468.3,237.5 C464.9,237.2 460.3,235.8 457.9,233.3 C455.5,230.9 454.3,226 453.8,222.9 C453.2,219.8 452,215.6 454.8,214.6Z"/>
<path class="m w" d="M484.4,228.1 C486.5,227 492.4,226.6 495.3,227.3 C498.2,228.1 501,230.7 501.6,232.8 C502.1,234.9 500.8,238.5 498.4,239.8 C496.1,241.1 490.1,241.5 487.5,240.6 C484.9,239.7 483.3,236.5 482.8,234.4 C482.3,232.3 482.3,229.3 484.4,228.1Z"/>
<path class="m" d="M467.2,242.2 C466.7,248.4 467.2,253.1 468.8,256.2 C470.3,259.4 472.9,260 476.6,260.9 C480.2,261.8 484.9,262.1 490.6,261.7"/>
<path class="t" d="M470.3,242.2 C470.1,247.8 470.6,252 471.9,254.7 C473.2,257.4 474.7,257.8 478.1,258.6 C481.5,259.4 486.2,259.6 492.2,259.4"/>
<path class="m w" d="M471.9,264.1 C473.2,262.8 476.3,260.9 479.7,260.9 C483.1,260.9 488,262.6 492.2,264.1 C496.4,265.5 500.8,267.8 504.7,269.5 C508.6,271.2 513.7,271.2 515.6,274.2 C517.6,277.2 518,284.5 516.4,287.5 C514.8,290.5 510.3,290.1 506.2,292.2 C502.2,294.3 496.4,298.8 492.2,300 C488,301.2 483.9,299.5 481.2,299.2 C478.6,299 477.3,299.3 476.6,298.4 C475.8,297.5 474.7,294.8 476.6,293.8 C478.4,292.7 484.6,293.8 487.5,292.2 C490.4,290.6 493.2,287.2 493.8,284.4 C494.3,281.5 492.7,277.3 490.6,275 C488.5,272.7 484.4,271.4 481.2,270.3 C478.1,269.3 473.4,269.8 471.9,268.8 C470.3,267.7 470.6,265.4 471.9,264.1Z"/>
<path class="t" d="M476.6,264.1 C482.8,264.8 487.5,266.4 490.6,268.8 C493.8,271.1 494.5,274.5 495.3,278.1 C496.1,281.8 496.1,287.5 495.3,290.6 C494.5,293.8 493,295.8 490.6,296.9"/>
<path class="t" d="M490.6,267.2 C496.9,269.3 502.1,271.1 506.2,272.7 C510.4,274.2 513.5,275.5 515.6,276.6"/>
<ellipse class="m w" cx="524" cy="276" rx="10.2" ry="22.3"/>
<ellipse class="t" cx="526" cy="276" rx="7.5" ry="18.5"/>
<path class="t" d="M518.8,264.1 L534.4,262.5"/>
<path class="t" d="M518.8,287.5 L534.4,289.1"/>
<path class="m w" d="M428.8,293.8 C430.7,291.1 434,294.1 441.2,296.9 C448.5,299.7 462.8,306.6 472.5,310.4 C482.2,314.2 494.7,317 499.6,319.8 C504.4,322.6 502.7,325 501.7,327.1 C500.6,329.2 498.2,331.4 493.3,332.3 C488.5,333.2 479.4,333.5 472.5,332.3 C465.6,331.1 458.8,328.3 451.7,325 C444.5,321.7 433.6,317.7 429.8,312.5 C426,307.3 426.8,296.4 428.8,293.8Z"/>
<path class="m w" d="M430.8,291.7 C431.7,288.9 435.7,289.9 437.1,292.7 C438.5,295.5 440,305.6 439.2,308.3 C438.3,311.1 433.3,312.2 431.9,309.4 C430.5,306.6 430,294.4 430.8,291.7Z"/>
<path class="m w" d="M484.4,314.1 C486.5,312.6 492.6,312.5 495.3,313.3 C498,314.1 500.4,316.5 500.8,318.8 C501.2,321 499.9,325.1 497.7,326.6 C495.4,328 490,328.1 487.5,327.3 C485,326.6 483.3,324.1 482.8,321.9 C482.3,319.7 482.3,315.5 484.4,314.1Z"/>
<path class="t" d="M429.7,295.3 L468.8,312.5"/>
<path class="m w" d="M454.3,169.6 L448,173.6 L441.7,169.6 L441.7,161.6 L448,157.6 L454.3,161.6Z"/>
<ellipse class="t w" cx="449.9" cy="166.4" rx="5.7" ry="6.5"/>
<path class="t" d="M441.8,161.8 L444.6,164.1 L444.6,171.3"/>
<path class="m w" d="M500.8,144.6 L494.9,148.4 L489,144.6 L489,137 L494.9,133.2 L500.8,137Z"/>
<ellipse class="t w" cx="496.7" cy="141.5" rx="5.4" ry="6.1"/>
<path class="t" d="M489,137.2 L491.7,139.4 L491.7,146.2"/>
<path class="m w" d="M482.7,235.5 L476.7,239.4 L470.7,235.5 L470.7,227.9 L476.7,224 L482.7,227.9Z"/>
<ellipse class="t w" cx="478.5" cy="232.4" rx="5.5" ry="6.2"/>
<path class="t" d="M470.7,228 L473.4,230.2 L473.4,237.2"/>
<path class="m w" d="M482.5,326.7 L476.7,330.4 L470.9,326.7 L470.9,319.3 L476.7,315.6 L482.5,319.3Z"/>
<ellipse class="t w" cx="478.4" cy="323.7" rx="5.2" ry="6"/>
<path class="t" d="M471,319.5 L473.6,321.6 L473.6,328.2"/>
<path class="m w" d="M455.4,351.7 L449.6,355.4 L443.8,351.7 L443.8,344.3 L449.6,340.6 L455.4,344.3Z"/>
<ellipse class="t w" cx="451.4" cy="348.7" rx="5.2" ry="6"/>
<path class="t" d="M443.9,344.5 L446.5,346.6 L446.5,353.2"/>
<path class="m w" d="M481.3,327.4 L476,330.8 L470.7,327.4 L470.7,320.6 L476,317.2 L481.3,320.6Z"/>
<ellipse class="t w" cx="477.6" cy="324.6" rx="4.9" ry="5.5"/>
<path class="t" d="M470.7,320.8 L473.1,322.7 L473.1,328.9"/>
<path class="m w" d="M380.4,282.3 L424.2,254.6 L434.2,278.8 L390.8,303.1Z"/>
<ellipse class="m w" cx="440" cy="262" rx="10" ry="17" transform="rotate(-15 440 262)"/>
<ellipse class="t" cx="440" cy="262" rx="7" ry="13" transform="rotate(-15 440 262)"/>
<path class="m w" d="M422.1,255.2 L428.3,252.1 L436.7,254.6 L441.9,268.8 L438.8,280.2 L432.5,281.2 L426.2,268.8Z"/>
<ellipse class="m w" cx="385.6" cy="291.5" rx="9.5" ry="11" transform="rotate(-30 385.6 291.5)"/>
<ellipse class="t" cx="401" cy="273" rx="1.6" ry="1.4"/>
<ellipse class="t" cx="409.6" cy="267.7" rx="1.6" ry="1.4"/>
<ellipse class="t" cx="418" cy="262.5" rx="1.6" ry="1.4"/>
<path class="m w" d="M392.9,333.4 C395.5,330.1 406.8,336.6 413.8,338.6 C420.7,340.5 429.8,342.7 434.6,345.1 C439.4,347.5 441.3,349 442.4,352.9 C443.5,356.8 442.8,364.9 441.1,368.5 C439.4,372.2 435.7,375.3 432,375.1 C428.3,374.8 423.3,369.6 419,367.2 C414.6,364.9 409.4,362.2 405.9,360.7 C402.5,359.2 400.3,362.7 398.1,358.1 C396,353.6 390.3,336.6 392.9,333.4Z"/>
<path class="t" d="M398.1,334.7 L405.9,360.7"/>
<path class="t" d="M429.4,347.7 C432.4,350.3 434.1,353.8 434.6,358.1 C435,362.5 434.1,367.7 432,373.8"/>
<path class="m w" d="M455.2,348.9 L449,352.9 L442.8,348.9 L442.8,341.1 L449,337.1 L455.2,341.1Z"/>
<ellipse class="t w" cx="450.9" cy="345.8" rx="5.6" ry="6.4"/>
<path class="t" d="M442.9,341.2 L445.6,343.5 L445.6,350.6"/>
<path class="n w" d="M325,714 L352,700 L533,723 L547,730.5 L547,736 L449.2,791 L449.2,785.5Z"/>
<path class="n w" d="M325,714 L325,719 L449.2,791 L449.2,785Z"/>
<path class="m" d="M325,714 L449.2,785 L547,730.5 L533,723"/>
<path class="m" d="M325,719 L449.2,791 L547,736 L547,730.5"/>
<path class="t" d="M449.2,785 L449.2,791"/>
<path class="m" d="M325,714 L352,700"/>
<ellipse class="m" cx="338" cy="713" rx="3.5" ry="2.2"/>
<ellipse class="m" cx="450.4" cy="778.3" rx="3.5" ry="2.2"/>
<ellipse class="m" cx="534.5" cy="730" rx="3.5" ry="2.2"/>
<path class="m w" d="M420.5,687.5 L420.6,685 L420.7,682.5 L421,680 L421.3,677.5 L421.8,675.1 L422.4,672.8 L423.1,670.5 L423.9,668.3 L424.8,666.1 L425.8,664 L426.9,662 L428.2,660.1 L429.5,658.3 L430.9,656.6 L432.4,655 L433.9,653.5 L435.6,652.1 L437.3,650.9 L439.1,649.7 L440.9,648.7 L442.9,647.8 L603.6,584.8 L605.5,584 L607.5,583.4 L609.6,582.9 L611.7,582.5 L613.8,582.3 L616,582.2 L618.1,582.2 L620.3,582.4 L622.5,582.7 L624.7,583.2 L626.9,583.7 L629,584.5 L631.2,585.3 L633.3,586.3 L635.4,587.3 L637.5,588.6 L639.5,589.9 L641.5,591.3 L643.4,592.9 L645.3,594.5 L647.1,596.3 L648.8,598.2 L650.5,600.1 L652.1,602.2 L653.6,604.3 L655,606.5 L656.3,608.7 L657.6,611.1 L658.7,613.4 L659.7,615.9 L660.7,618.3 L661.5,620.8 L662.2,623.4 L662.8,625.9 L663.3,628.5 L663.7,631.1 L664,633.6 L664.1,636.2 L664.2,638.8 L664.1,641.3 L663.9,643.8 L663.6,646.3 L663.2,648.7 L662.6,651.1 L662,653.4 L661.2,655.6 L660.4,657.8 L659.4,659.9 L658.3,662 L657.2,663.9 L655.9,665.8 L654.5,667.5 L653.1,669.2 L651.6,670.7 L650,672.2 L648.3,673.5 L646.5,674.7 L644.7,675.8 L642.8,676.8 L640.9,677.6 L480.2,740.6 L478.2,741.3 L476.1,741.9 L474.1,742.3 L471.9,742.6 L469.8,742.8 L467.6,742.8 L465.5,742.7 L463.3,742.4 L461.1,742.1 L458.9,741.6 L456.7,740.9 L454.6,740.1 L452.4,739.2 L450.3,738.2 L448.2,737.1 L446.2,735.8 L444.2,734.4 L442.2,732.9 L440.3,731.3 L438.5,729.6 L436.7,727.8 L435,725.9 L433.4,723.9 L431.9,721.8 L430.4,719.6 L429,717.4 L427.8,715.1 L426.6,712.8 L425.5,710.4 L424.5,707.9 L423.6,705.4 L422.8,702.9 L422.2,700.4 L421.6,697.8 L421.2,695.2 L420.9,692.7 L420.6,690.1Z"/>
<path class="m w" d="M576.7,624 L576.7,621.2 L576.9,618.5 L577.2,615.7 L577.6,613 L578.1,610.4 L578.8,607.8 L579.6,605.3 L580.5,602.8 L581.5,600.4 L582.6,598.1 L583.9,595.9 L585.2,593.8 L586.7,591.8 L588.3,590 L589.9,588.2 L591.7,586.5 L593.5,585 L595.4,583.6 L597.4,582.3 L599.5,581.2 L601.6,580.2 L603.8,579.3 L638.5,565.8 L640.8,565.1 L643.1,564.6 L645.4,564.2 L647.7,563.9 L650.1,563.8 L652.5,563.8 L655,564 L657.4,564.3 L659.8,564.8 L662.2,565.4 L664.6,566.2 L667,567.1 L669.4,568.2 L671.7,569.4 L674,570.7 L676.3,572.1 L678.4,573.7 L680.6,575.4 L682.6,577.2 L684.6,579.2 L686.6,581.2 L688.4,583.4 L690.1,585.6 L691.8,587.9 L693.4,590.3 L694.8,592.8 L696.2,595.4 L697.5,598 L698.6,600.7 L699.6,603.4 L700.5,606.1 L701.3,608.9 L702,611.7 L702.5,614.6 L702.9,617.4 L703.2,620.2 L703.4,623.1 L703.4,625.9 L703.3,628.7 L703.1,631.4 L702.7,634.1 L702.3,636.8 L701.7,639.4 L700.9,642 L700.1,644.5 L699.1,646.9 L698,649.2 L696.9,651.5 L695.5,653.6 L694.1,655.7 L692.6,657.6 L691,659.4 L689.3,661.2 L687.5,662.7 L685.6,664.2 L683.7,665.6 L681.6,666.8 L679.5,667.8 L677.4,668.7 L642.7,682.2 L640.5,683 L638.2,683.7 L635.9,684.2 L633.5,684.5 L631.2,684.7 L628.8,684.7 L626.4,684.6 L623.9,684.4 L621.5,684 L619.1,683.4 L616.7,682.7 L614.3,681.9 L611.9,680.9 L609.5,679.8 L607.2,678.5 L605,677.1 L602.7,675.6 L600.6,673.9 L598.5,672.2 L596.5,670.3 L594.5,668.3 L592.6,666.2 L590.8,664 L589.1,661.7 L587.5,659.4 L586,656.9 L584.6,654.4 L583.3,651.8 L582.1,649.2 L581,646.5 L580,643.7 L579.2,641 L578.4,638.2 L577.8,635.4 L577.4,632.5 L577,629.7 L576.8,626.9Z"/>
<ellipse class="m w" cx="657.4" cy="617.5" rx="55" ry="44.5" transform="rotate(68.7 657.4 617.5)"/>
<ellipse class="m" cx="658.9" cy="617.5" rx="48" ry="39" transform="rotate(68.7 658.9 617.5)"/>
<path class="m w" d="M663.4,592 C661.5,592.2 659.3,593.1 657.6,594.9 C655.9,596.8 653.9,600 653.1,603.1 C652.3,606.3 652.3,610.2 652.9,613.7 C653.4,617.2 654.6,621.5 656.4,624.2 C658.2,627 661.3,628.8 663.4,630.1 C665.6,631.4 667.3,632.2 669.3,632.2 C671.3,632.2 673.6,631 675.2,630.1 C676.7,629.1 678.7,629.9 678.7,626.6 C678.7,623.2 676.7,615.6 675.2,610.2 C673.6,604.7 671.3,596.8 669.3,593.8 C667.3,590.7 665.4,591.8 663.4,592Z"/>
<path class="t" d="M656.7,599.3 h1.8 v1.8 h-1.8z"/>
<path class="t" d="M655.5,604.6 h1.8 v1.8 h-1.8z"/>
<path class="t" d="M655.5,609.8 h1.8 v1.8 h-1.8z"/>
<path class="t" d="M656.7,615.1 h1.8 v1.8 h-1.8z"/>
<path class="t" d="M659.0,620.4 h1.8 v1.8 h-1.8z"/>
<path class="t" d="M662.5,624.5 h1.8 v1.8 h-1.8z"/>
<path class="t" d="M666.6,627.4 h1.8 v1.8 h-1.8z"/>
<path class="t" d="M664,593.8 C662.9,595.9 662.1,598.6 661.7,602 C661.3,605.3 661.1,610.2 661.7,613.7 C662.3,617.2 663.5,620.7 665.2,623 C666.9,625.4 669,627 671.6,627.7"/>
<path class="m w" d="M665.8,592 L686.9,586.7 L696.3,619.5 L675.2,627.2 L668.1,624.2 L663.4,610.2Z"/>
<ellipse class="m w" cx="696" cy="601.4" rx="12.8" ry="15.8" transform="rotate(-20 696 601.4)"/>
<ellipse class="m w" cx="698.5" cy="600.5" rx="8" ry="11" transform="rotate(-20 698.5 600.5)"/>
<path class="m b" d="M696.9,597.8 L696.9,597 L696.9,596.2 L697,595.5 L697.2,594.7 L697.5,594 L697.7,593.3 L698.1,592.6 L698.5,591.9 L698.9,591.3 L699.4,590.8 L699.9,590.3 L700.5,589.8 L701.1,589.4 L701.7,589.1 L706.5,586.5 L707.2,586.2 L707.9,586 L708.7,585.8 L709.4,585.7 L710.2,585.6 L711,585.6 L711.7,585.7 L712.5,585.9 L713.2,586.1 L714,586.3 L714.7,586.7 L715.4,587.1 L716,587.5 L716.7,588 L717.3,588.6 L717.8,589.2 L718.4,589.8 L718.8,590.5 L719.2,591.2 L719.6,592 L719.9,592.8 L720.2,593.5 L720.4,594.4 L720.5,595.2 L720.6,596 L720.6,596.8 L720.6,597.6 L720.5,598.5 L720.3,599.2 L720.1,600 L719.8,600.8 L719.5,601.5 L719.1,602.2 L718.7,602.8 L718.2,603.4 L717.6,604 L717.1,604.5 L716.4,604.9 L715.8,605.3 L715.1,605.7 L710,607.7 L709.3,607.9 L708.6,608.1 L707.9,608.3 L707.2,608.4 L706.5,608.4 L705.8,608.3 L705,608.2 L704.3,608 L703.6,607.8 L702.9,607.5 L702.2,607.1 L701.6,606.7 L701,606.2 L700.4,605.7 L699.8,605.1 L699.3,604.5 L698.8,603.9 L698.4,603.2 L698,602.5 L697.7,601.8 L697.4,601 L697.2,600.2 L697,599.4 L696.9,598.6Z"/>
<ellipse class="m w" cx="712.3" cy="595.5" rx="6.6" ry="7.8" transform="rotate(-20 712.3 595.5)"/>
<ellipse class="m w" cx="712.6" cy="595.4" rx="3.6" ry="4.4" transform="rotate(-20 712.6 595.4)"/>
<path class="n w" d="M409.6,745.4 L452.9,770.1 L519.7,725.6 L508.5,721.9 L444.2,739.2 L436.8,734.2 L419.5,741.6Z"/>
<path class="m" d="M409.6,745.4 L452.9,770.1 L519.7,725.6"/>
<path class="t" d="M413.3,744.1 L452.9,766.9 L517.9,724.8"/>
<path class="m" d="M436.8,734.2 L452.9,768.9"/>
<path class="m" d="M444.2,739.2 C452.5,741.6 460.7,742.5 469,741.6 C477.2,740.8 485.5,736.9 493.7,734.2 C501.9,731.5 510.2,728.7 518.4,725.6"/>
<ellipse class="t" cx="451.6" cy="741.6" rx="1.8" ry="2.2"/>
<path class="n w" d="M351,636 L406,666 L420,668 L420,735 L351,701Z"/>
<path class="m" d="M351,636 L351,701"/>
<path class="m" d="M351,636 L406,666"/>
<path class="m" d="M351,636 L385,618.5"/>
<path class="m" d="M399,657 L416,695"/>
<path class="m" d="M401.2,664 L421,694.2"/>
<ellipse class="m w" cx="372.5" cy="665" rx="5" ry="6" transform="rotate(-20 372.5 665)"/>
<ellipse class="t" cx="373.5" cy="665" rx="2.5" ry="3" transform="rotate(-20 373.5 665)"/>
<path class="m w" d="M437.9,644.7 L439.7,637.4 L487.1,617.3 L510.8,610.1 L510.8,617.3 L501.7,619.2 L487.1,631.9 L472.5,639.2 L454.3,644.7Z"/>
<path class="t" d="M476.1,621 L475.2,629.2"/>
<path class="t" d="M479.8,621 L478.9,629.2"/>
<path class="t" d="M483.4,621 L482.5,629.2"/>
<path class="t" d="M487.1,621 L486.2,629.2"/>
<path class="t" d="M454.3,638.3 L456.1,644.7"/>
<path class="t" d="M472.5,631 L474.3,639.2"/>
<path class="m w" d="M501.7,606.4 L510.8,604.6 L510.8,610.1 L503.5,612.8Z"/>
<path class="m w" d="M409.6,650.2 L512.6,597.3 L514.4,600 L411.4,653.8Z"/>
<path class="m w" d="M410.5,652.9 L512.6,600 L510.8,605.5 L410.5,662.9Z"/>
<path class="t" d="M412.3,655.6 L510.8,602.8"/>
<path class="m w" d="M390.5,652.9 L399.6,648.3 L410.5,650.2 L411.4,662.9 L406.9,665.6 L391.4,657.4Z"/>
<path class="t" d="M390.5,652.9 L406.9,660.2 L411.4,653.8"/>
<path class="t" d="M406.9,660.2 L406.9,665.6"/>
<ellipse class="t" cx="403.2" cy="655.3" rx="3" ry="2" transform="rotate(-20 403.2 655.3)"/>
<ellipse class="m w" cx="459.7" cy="614.6" rx="5" ry="4.5" transform="rotate(-20 459.7 614.6)"/>
<ellipse class="kk w" cx="455" cy="650" rx="17" ry="7.5" transform="rotate(-25 455 650)"/>
<ellipse class="t" cx="456" cy="649.5" rx="11" ry="4.2" transform="rotate(-25 456 649.5)"/>
<path class="m w" d="M374.9,712 L394.7,703.3 L407.1,694.6 L417,692.2 L419.5,699.6 L419.5,716.9 L379.9,720.6Z"/>
<path class="t" d="M384.8,709.5 L404.6,699.6"/>
<path class="t" d="M399.7,702.1 L412.1,697.1 L417,703.3"/>
<path class="m w" d="M435.6,694.6 L454.1,690.2 L464,709.5 L465.2,713.2 L452.9,720.6 L441.7,719.4Z"/>
<path class="t" d="M441.7,699.6 L454.1,693.4 L464,710.7"/>
<ellipse class="m" cx="451.6" cy="697.1" rx="2" ry="2.5" transform="rotate(-20 451.6 697.1)"/>
<ellipse class="m" cx="457.8" cy="708.2" rx="2" ry="2.5" transform="rotate(-20 457.8 708.2)"/>
<path class="t" d="M434.3,697.1 C431,701.6 429.4,705.8 429.4,709.5 C429.4,713.2 430.4,716.8 434.3,719.4 C438.2,721.9 444.4,723.7 452.9,724.8"/>
<path class="m w" d="M374.9,716.9 L438,692.2 L454.1,725.6 L393.5,750.3Z"/>
<path class="t" d="M376.9,721.4 L439.3,695.9"/>
<path class="t" d="M392.3,746.6 L452.9,722.3"/>
<path class="t" d="M438,692.2 L439.3,695.9"/>
<ellipse class="t" cx="409.6" cy="736.7" rx="2.5" ry="3.5"/>
<text style="opacity:0.99" x="275.4" y="956" font-family="Liberation Sans" font-size="21.5" textLength="177" lengthAdjust="spacingAndGlyphs" fill="#1a1a1a">300 ml CARTRIDGE</text>
</svg>
</body></html>
